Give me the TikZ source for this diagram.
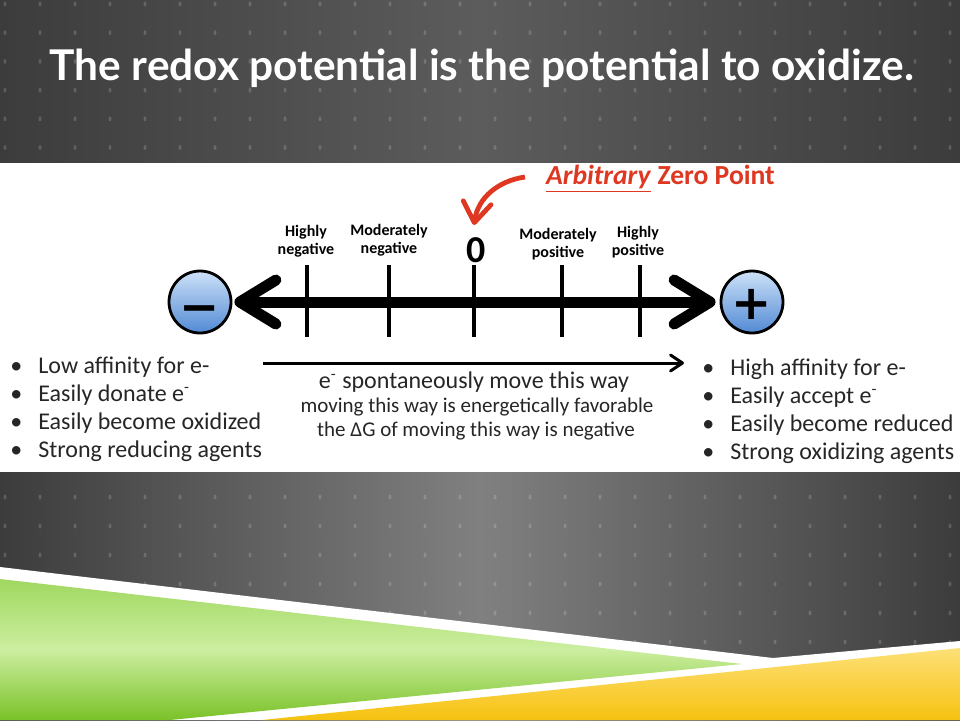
\documentclass[tikz,border=0pt]{standalone}
\usepackage{fontspec}
\setmainfont{Carlito}
\newfontfamily\headfont{Lato}
\newfontfamily\signfont{DejaVu Sans}
\usetikzlibrary{arrows.meta}
\definecolor{slate_dark}{RGB}{60, 60, 60}
\definecolor{slate_top}{RGB}{92, 92, 92}
\definecolor{slate_mid}{RGB}{128, 128, 128}
\definecolor{pole_top}{RGB}{205, 225, 248}
\definecolor{pole_bot}{RGB}{82, 138, 212}
\definecolor{note_red}{RGB}{222, 56, 34}
\definecolor{ink}{RGB}{38, 38, 38}
\definecolor{leaf_light}{RGB}{204, 238, 160}
\definecolor{leaf_top}{RGB}{160, 216, 96}
\definecolor{leaf_dark}{RGB}{122, 194, 40}
\definecolor{sun_light}{RGB}{253, 224, 120}
\definecolor{sun_dark}{RGB}{246, 194, 16}
\tikzstyle{pole}=[circle,draw=black,line width=1.4pt,minimum size=31pt,
  inner sep=0pt,top color=pole_top,bottom color=pole_bot,text height=17.5pt,text depth=0pt,
  font=\signfont\bfseries\fontsize{24}{24}\selectfont]
\tikzstyle{axis}=[line width=5.5pt,
  {Straight Barb[length=18pt,width=22pt,round]}-{Straight Barb[length=18pt,width=22pt,round]}]
\tikzstyle{tick}=[line width=2.4pt]
\tikzstyle{level}=[align=center,font=\bfseries\fontsize{8}{9}\selectfont,text=black]
\tikzstyle{item}=[anchor=base west,inner sep=0pt,text=ink,font=\fontsize{12}{14}\selectfont]
\tikzstyle{flow}=[line width=1.5pt,-{Straight Barb[length=6pt,width=8pt,round]}]
\tikzstyle{note}=[anchor=base,inner sep=0pt,text=ink]
\tikzstyle{pointer}=[note_red,line width=2.4pt,-{Straight Barb[length=10pt,width=14pt,round]}]
\tikzstyle{dot}=[fill=white,opacity=0.17]
\tikzstyle{none}=[]
\newcommand{\bul}[1]{\makebox[14pt][l]{\textbullet}#1}

\begin{document}
\begin{tikzpicture}[x=0.5pt,y=-0.5pt]
        \useasboundingbox (0,0) rectangle (960,720);
        \shade [left color=slate_dark,right color=slate_dark,middle color=slate_top] (0,0) rectangle (960,163);
        \shade [left color=slate_dark,right color=slate_dark,middle color=slate_mid] (0,472) rectangle (960,720);
        \foreach \i in {0,...,27} {
            \foreach \j in {0,...,5}
                \fill [style=dot] (5+35*\i,4+28.7*\j) ellipse [x radius=1.5,y radius=2.5];
            \foreach \j in {0,...,7}
                \fill [style=dot] (5+35*\i,497+29*\j) ellipse [x radius=1.5,y radius=2.5];
        }
        \fill [white] (0,163) rectangle (960,472);
        \fill [white] (0,567) -- (773,658) -- (960,641) -- (960,720) -- (0,720) -- cycle;
        \shade [top color=leaf_top,bottom color=leaf_dark,middle color=leaf_light] (0,579) -- (742,664) -- (170,720) -- (0,720) -- cycle;
        \shade [top color=sun_light,bottom color=sun_dark] (262,720) -- (960,648) -- (960,720) -- cycle;
        \node [style=none, anchor=base, text=white, font=\headfont\bfseries\fontsize{21.2}{21.2}\selectfont] (title) at (482, 80) {The redox potential is the potential to oxidize.};
        \node [style=pole] (0) at (200, 302) {\raisebox{-2pt}{−}};
        \node [style=pole] (1) at (752, 302) {+};
        \draw [style=axis, shorten <=1pt, shorten >=2pt] (0) to (1);
        \foreach \x in {307,389,474,562,640}
            \draw [style=tick] (\x,265) -- (\x,337);
        \node [style=level] (2) at (306, 241) {Highly\\negative};
        \node [style=level] (3) at (389, 240) {Moderately\\negative};
        \node [style=none, font=\bfseries\fontsize{19}{19}\selectfont] (4) at (476, 250) {0};
        \node [style=level] (5) at (558, 244) {Moderately\\positive};
        \node [style=level] (6) at (638, 242) {Highly\\positive};
        \node [style=none, anchor=west, text=note_red, font=\bfseries\fontsize{13.8}{13.8}\selectfont] (7) at (539, 179) {\underline{\textit{Arbitrary}} Zero Point};
        \node [style=none] (8) at (525, 177) {};
        \node [style=none] (9) at (474, 225) {};
        \draw [style=pointer] (8.center) to [out=188, in=82] (9.center);
        \node [style=none] (10) at (263, 363) {};
        \node [style=none] (11) at (684, 363) {};
        \draw [style=flow] (10.center) to (11.center);
        \node [style=note, font=\fontsize{12}{12}\selectfont] (12) at (474, 388) {e\textsuperscript{-} spontaneously move this way};
        \node [style=note, font=\fontsize{10.5}{10.5}\selectfont] (13) at (477, 412) {moving this way is energetically favorable};
        \node [style=note, font=\fontsize{10.5}{10.5}\selectfont] (14) at (476, 436) {the ΔG of moving this way is negative};
        \node [style=item] (15) at (10, 373) {\bul{Low affinity for e-}};
        \node [style=item] (16) at (10, 401) {\bul{Easily donate e\textsuperscript{-}}};
        \node [style=item] (17) at (10, 429) {\bul{Easily become oxidized}};
        \node [style=item] (18) at (10, 457) {\bul{Strong reducing agents}};
        \node [style=item] (19) at (702, 375) {\bul{High affinity for e-}};
        \node [style=item] (20) at (702, 403) {\bul{Easily accept e\textsuperscript{-}}};
        \node [style=item] (21) at (702, 431) {\bul{Easily become reduced}};
        \node [style=item] (22) at (702, 459) {\bul{Strong oxidizing agents}};
    \end{tikzpicture}
\end{document}
